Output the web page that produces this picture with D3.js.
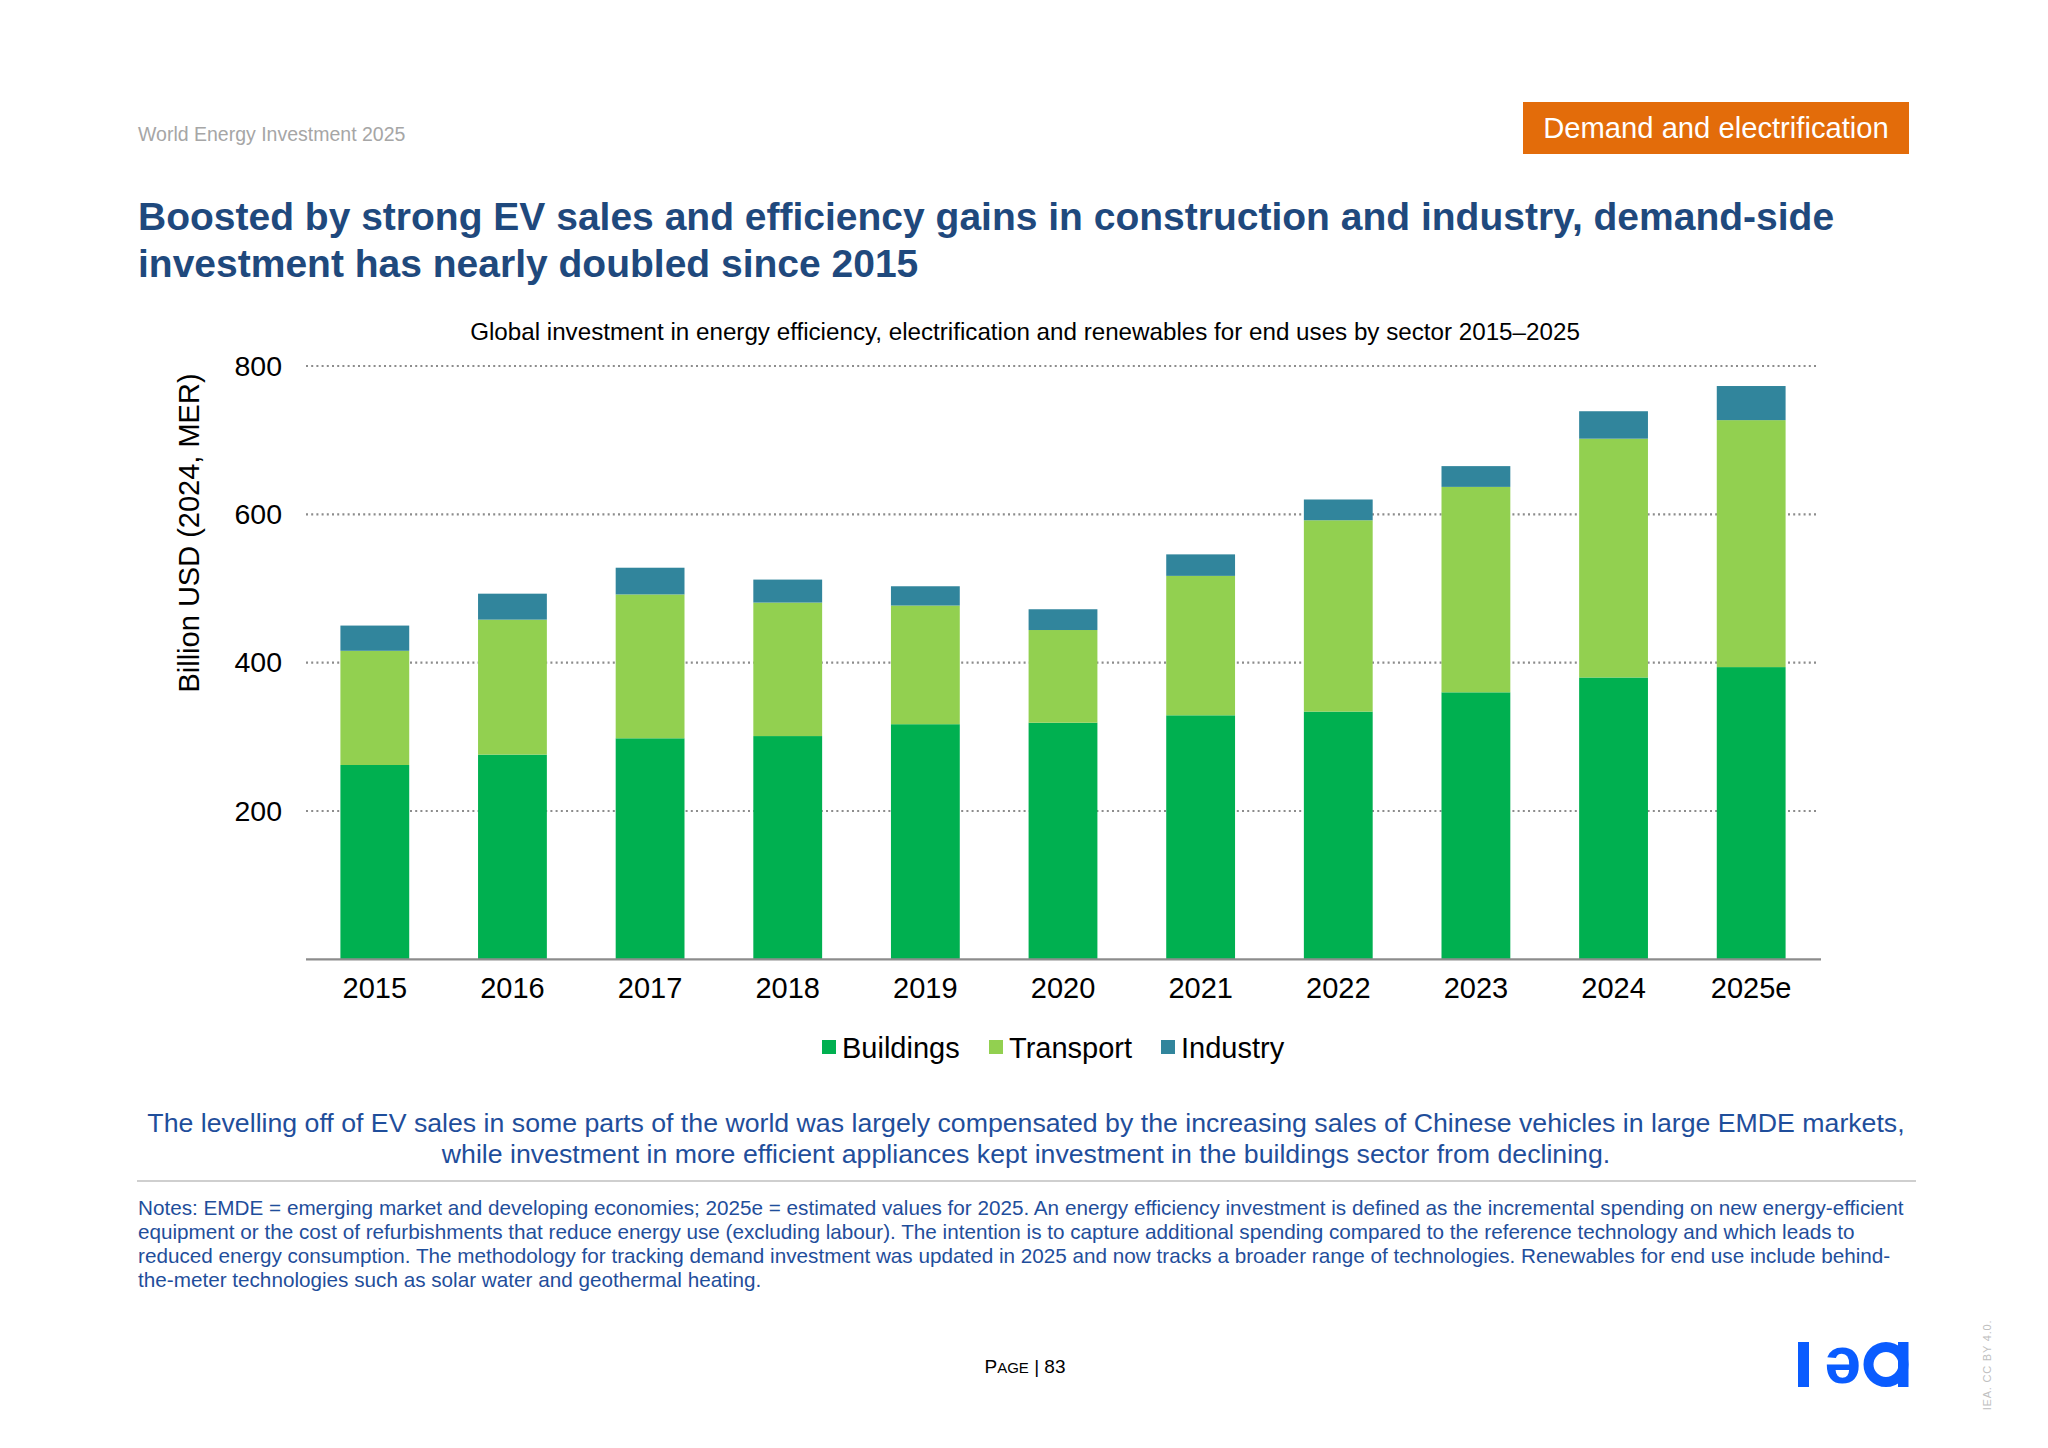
<!DOCTYPE html>
<html>
<head>
<meta charset="utf-8">
<script src="https://cdn.jsdelivr.net/npm/d3@7"></script>
<style>
  html, body { margin: 0; padding: 0; background: #fff; }
  svg { display: block; font-family: "Liberation Sans", Arial, sans-serif; }
</style>
</head>
<body>
<svg id="chart" width="2048" height="1448"></svg>
<script>
// ---- Data ----
const categories = ["2015","2016","2017","2018","2019","2020","2021","2022","2023","2024","2025e"];
const buildings  = [262, 276, 298, 301, 317, 319, 329, 334, 360, 380, 394];
const transport  = [154, 182, 194, 180, 160, 125, 188, 258, 277, 322, 333];
const industry   = [34, 35, 36, 31, 26, 28, 29, 28, 28, 37, 46];
const seriesNames = ["Buildings", "Transport", "Industry"];
const yTicks = [200, 400, 600, 800];

const colors = { Buildings: "#00b050", Transport: "#92d050", Industry: "#31859c" };

const svg = d3.select("#chart");

// ---- Header ----
svg.append("text").attr("x", 138).attr("y", 141)
  .attr("font-size", 19.5).attr("fill", "#a6a6a6")
  .text("World Energy Investment 2025");

svg.append("rect").attr("x", 1523).attr("y", 102).attr("width", 386).attr("height", 52)
  .attr("fill", "#e36c0a");
svg.append("text").attr("x", 1716).attr("y", 138).attr("text-anchor", "middle")
  .attr("font-size", 29.2).attr("fill", "#ffffff")
  .text("Demand and electrification");

const titleLines = [
  "Boosted by strong EV sales and efficiency gains in construction and industry, demand-side",
  "investment has nearly doubled since 2015"
];
svg.append("text").attr("font-size", 39).attr("font-weight", "bold").attr("fill", "#1f497d")
  .selectAll("tspan").data(titleLines).join("tspan")
  .attr("x", 138).attr("y", (d, i) => 230 + i * 47).text(d => d);

svg.append("text").attr("x", 1025).attr("y", 340).attr("text-anchor", "middle")
  .attr("font-size", 24.2).attr("fill", "#000")
  .text("Global investment in energy efficiency, electrification and renewables for end uses by sector 2015\u20132025");

// ---- Chart ----
const x = d3.scaleBand().domain(categories).range([306, 1820]).paddingInner(0.5).paddingOuter(0.25);
const y = d3.scaleLinear().domain([0, 800]).range([959.3, 366]);

const rows = categories.map((c, i) => ({
  cat: c, Buildings: buildings[i], Transport: transport[i], Industry: industry[i]
}));
const stacked = d3.stack().keys(seriesNames)(rows);

// gridlines
svg.append("g").selectAll("line").data(yTicks).join("line")
  .attr("x1", 306).attr("x2", 1818)
  .attr("y1", d => y(d)).attr("y2", d => y(d))
  .attr("stroke", "#8c8c8c").attr("stroke-width", 2.2).attr("stroke-dasharray", "2,3.2");

// y tick labels
const yAxis = d3.axisLeft(y).tickValues(yTicks).tickSize(0).tickPadding(0);
const yg = svg.append("g").attr("transform", "translate(282,0)").call(yAxis);
yg.select(".domain").remove();
yg.selectAll("text").attr("font-size", 28.5).attr("fill", "#000")
  .attr("font-family", "'Liberation Sans', Arial, sans-serif");

// bars
svg.append("g").selectAll("g").data(stacked).join("g")
  .attr("fill", d => colors[d.key])
  .selectAll("rect").data(d => d).join("rect")
  .attr("x", d => x(d.data.cat))
  .attr("width", x.bandwidth())
  .attr("y", d => y(d[1]))
  .attr("height", d => y(d[0]) - y(d[1]));

// baseline + x axis
const xAxis = d3.axisBottom(x).tickSize(0).tickPadding(18);
const xg = svg.append("g").attr("transform", `translate(0,${y(0)})`).call(xAxis);
xg.select(".domain").attr("stroke", "#8c8c8c").attr("stroke-width", 2.2)
  .attr("d", "M306,0H1821");
xg.selectAll("text").attr("font-size", 29).attr("fill", "#000")
  .attr("font-family", "'Liberation Sans', Arial, sans-serif");

// y axis title
svg.append("text").attr("transform", "translate(199,533) rotate(-90)")
  .attr("text-anchor", "middle").attr("font-size", 29).attr("fill", "#000")
  .text("Billion USD (2024, MER)");

// legend
const legendX = [822, 989, 1161];
const lg = svg.append("g").selectAll("g").data(seriesNames).join("g")
  .attr("transform", (d, i) => `translate(${legendX[i]},1047)`);
lg.append("rect").attr("x", 0).attr("y", -7).attr("width", 14).attr("height", 14)
  .attr("fill", d => colors[d]);
lg.append("text").attr("x", 20).attr("y", 10.5).attr("font-size", 29).attr("fill", "#000")
  .text(d => d);

// ---- Caption ----
const captionLines = [
  "The levelling off of EV sales in some parts of the world was largely compensated by the increasing sales of Chinese vehicles in large EMDE markets,",
  "while investment in more efficient appliances kept investment in the buildings sector from declining."
];
svg.append("text").attr("font-size", 26.7).attr("fill", "#1f4e9b").attr("text-anchor", "middle")
  .selectAll("tspan").data(captionLines).join("tspan")
  .attr("x", 1026).attr("y", (d, i) => 1132 + i * 31).text(d => d);

svg.append("line").attr("x1", 137).attr("x2", 1916).attr("y1", 1181).attr("y2", 1181)
  .attr("stroke", "#cfcfcf").attr("stroke-width", 2);

const notesLines = [
  "Notes: EMDE = emerging market and developing economies; 2025e = estimated values for 2025. An energy efficiency investment is defined as the incremental spending on new energy-efficient",
  "equipment or the cost of refurbishments that reduce energy use (excluding labour). The intention is to capture additional spending compared to the reference technology and which leads to",
  "reduced energy consumption. The methodology for tracking demand investment was updated in 2025 and now tracks a broader range of technologies. Renewables for end use include behind-",
  "the-meter technologies such as solar water and geothermal heating."
];
svg.append("text").attr("font-size", 20.7).attr("fill", "#1f4e9b")
  .selectAll("tspan").data(notesLines).join("tspan")
  .attr("x", 138).attr("y", (d, i) => 1215 + i * 24).text(d => d);

// ---- Footer ----
const pg = svg.append("text").attr("x", 1025).attr("y", 1373).attr("text-anchor", "middle")
  .attr("fill", "#000");
pg.append("tspan").attr("font-size", 19).text("P");
pg.append("tspan").attr("font-size", 15).text("AGE");
pg.append("tspan").attr("font-size", 19).text(" | 83");

// IEA logo (approximation with shapes)
const logo = svg.append("g").attr("fill", "#0a5cff");
logo.append("rect").attr("x", 1798).attr("y", 1342).attr("width", 11).attr("height", 45);
logo.append("text").attr("x", 0).attr("y", 0).attr("font-size", 66).attr("font-weight", "bold")
  .attr("text-anchor", "middle")
  .attr("transform", "translate(1843,1348) rotate(180)")
  .text("e");
logo.append("circle").attr("cx", 1886).attr("cy", 1364.5).attr("r", 17.5)
  .attr("fill", "none").attr("stroke", "#0a5cff").attr("stroke-width", 10);
logo.append("rect").attr("x", 1898).attr("y", 1342).attr("width", 10.5).attr("height", 45);

svg.append("text").attr("transform", "translate(1991,1365) rotate(-90)")
  .attr("text-anchor", "middle").attr("font-size", 11).attr("fill", "#c0c0c0")
  .attr("letter-spacing", 0.8)
  .text("IEA. CC BY 4.0.");
</script>
</body>
</html>
